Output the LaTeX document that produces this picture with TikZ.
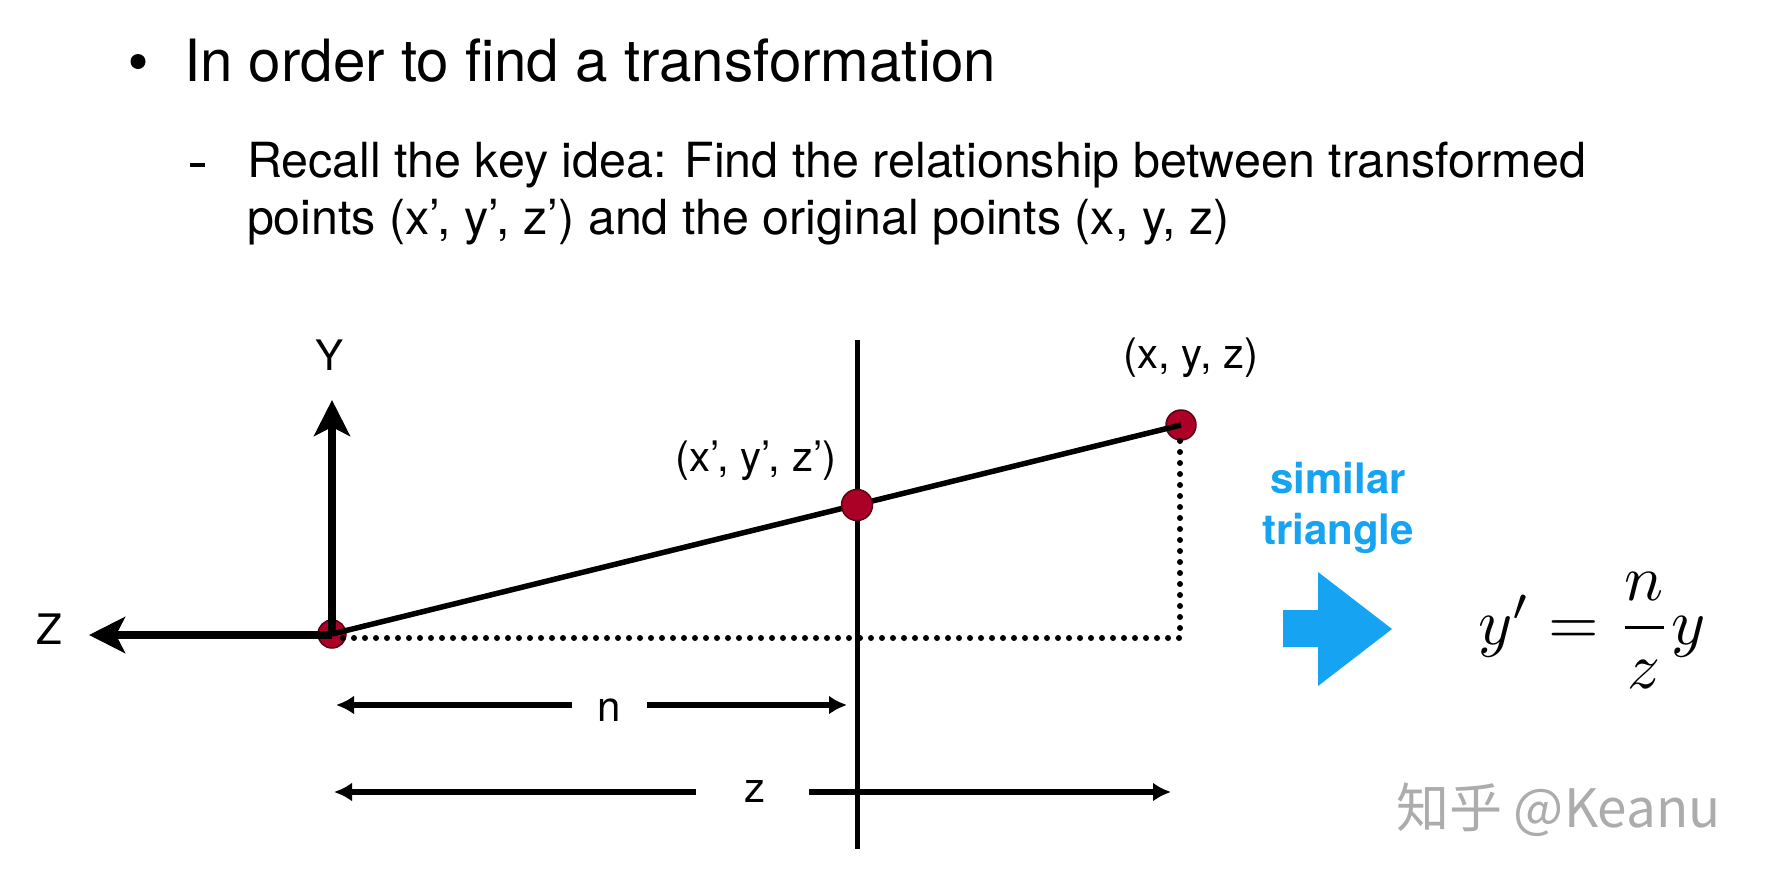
\documentclass[tikz,border=0pt]{standalone}
\usepackage{graphicx}
\usepackage{fontspec}
\setmainfont{TeX Gyre Heros}
\newfontfamily\cjk{Noto Sans CJK SC}
\usetikzlibrary{arrows.meta}
\definecolor{dotred}{RGB}{172,0,38}
\definecolor{dotedge}{RGB}{90,0,20}
\definecolor{skyblue}{RGB}{22,163,242}
\definecolor{wmgray}{RGB}{172,172,172}
\tikzset{
  txt/.style={inner sep=0pt, outer sep=0pt},
  ptdot/.style={circle, fill=dotred, draw=dotedge, line width=1.5pt, minimum size=#1, inner sep=0pt},
  axisarrow/.style={line width=7.5pt, -{Stealth[length=36pt,width=36pt,inset=9pt]}},
  dimarrow/.style={line width=5.5pt, -{Latex[length=18pt,width=19pt]}},
  dotline/.style={line width=6pt, line cap=round, dash pattern=on 0pt off 11pt},
  bigtxt/.style={txt, font=\fontsize{58.3}{70}\selectfont},
  subtxt/.style={txt, font=\fontsize{48.4}{58}\selectfont},
  lbl/.style={txt, font=\fontsize{42}{50}\selectfont},
  bluetxt/.style={txt, text=skyblue, font=\fontsize{42}{50}\selectfont\bfseries},
}
\begin{document}
\begin{tikzpicture}[x=1pt,y=-1pt]
\useasboundingbox[fill=white] (0,0) rectangle (1769,879);

% header text
\fill (138,61.5) circle (7.5);
\node[bigtxt, anchor=base west] (title) at (184,81) {In order to find a transformation};
\draw[line width=4pt] (190,165) -- (205,165);
\node[subtxt, anchor=base west] (sub1) at (247,177) {Recall the key idea: Find the relationship between transformed};
\node[subtxt, anchor=base west] (sub2) at (247,234) {points (x’, y’, z’) and the original points (x, y, z)};

% near plane
\coordinate (planeTop) at (857,340);
\coordinate (planeBot) at (857,849);
\draw[line width=5pt] (planeTop) -- (planeBot);

% points
\node[ptdot=28pt] (O) at (332,634) {};
\node[ptdot=30pt] (Q) at (1181,425) {};

% axes
\coordinate (Ytip) at (332,400);
\coordinate (Ztip) at (89,635);
\draw[axisarrow] (O.center) -- (Ytip);
\draw[axisarrow] ([yshift=-1pt]O.center) -- (Ztip);
\node[lbl, anchor=base] (Ylbl) at (330,370) {Y};
\node[lbl, anchor=base] (Zlbl) at (49,644) {Z};

% projection line
\draw[line width=5.5pt] (O.center) -- (Q.center);

% dotted lines
\coordinate (corner) at (1180,638);
\draw[dotline] (343,638) -- (corner);
\draw[dotline] (1180,441) -- (corner);

% dimension arrows
\coordinate (nGapL) at (572,705);
\coordinate (nGapR) at (647,705);
\coordinate (nL) at (336,705);
\coordinate (nR) at (847,705);
\draw[dimarrow] (nGapL) -- (nL);
\draw[dimarrow] (nGapR) -- (nR);
\node[lbl, anchor=base] (nlbl) at (609,721) {n};

\coordinate (zGapL) at (696,792);
\coordinate (zGapR) at (809,792);
\coordinate (zL) at (334,792);
\coordinate (zR) at (1171,792);
\draw[dimarrow] (zGapL) -- (zL);
\draw[dimarrow] (zGapR) -- (zR);
\node[lbl, anchor=base] (zlbl) at (755,802) {z};

% projected point
\node[ptdot=31pt] (P) at (857,505) {};
\node[lbl, anchor=base] (Plbl) at (756,471) {(x’, y’, z’)};
\node[lbl, anchor=base] (Qlbl) at (1191,368) {(x, y, z)};

% similar triangle arrow
\node[bluetxt, anchor=base] (sim1) at (1338,493) {similar};
\node[bluetxt, anchor=base] (sim2) at (1338,544) {triangle};
\fill[skyblue] (1283,610) -- (1318,610) -- (1318,572) -- (1392,629) -- (1318,686) -- (1318,647) -- (1283,647) -- cycle;

% formula
\node[txt, anchor=base west] (formula) at (1478,644) {\scalebox{6.5}{$y'={\displaystyle\frac{n}{z}}y$}};

% watermark
\node[txt, anchor=base west, text=wmgray, font=\cjk\fontsize{53}{63}\selectfont] (wm) at (1396,827) {知乎 @Keanu};
\end{tikzpicture}
\end{document}
